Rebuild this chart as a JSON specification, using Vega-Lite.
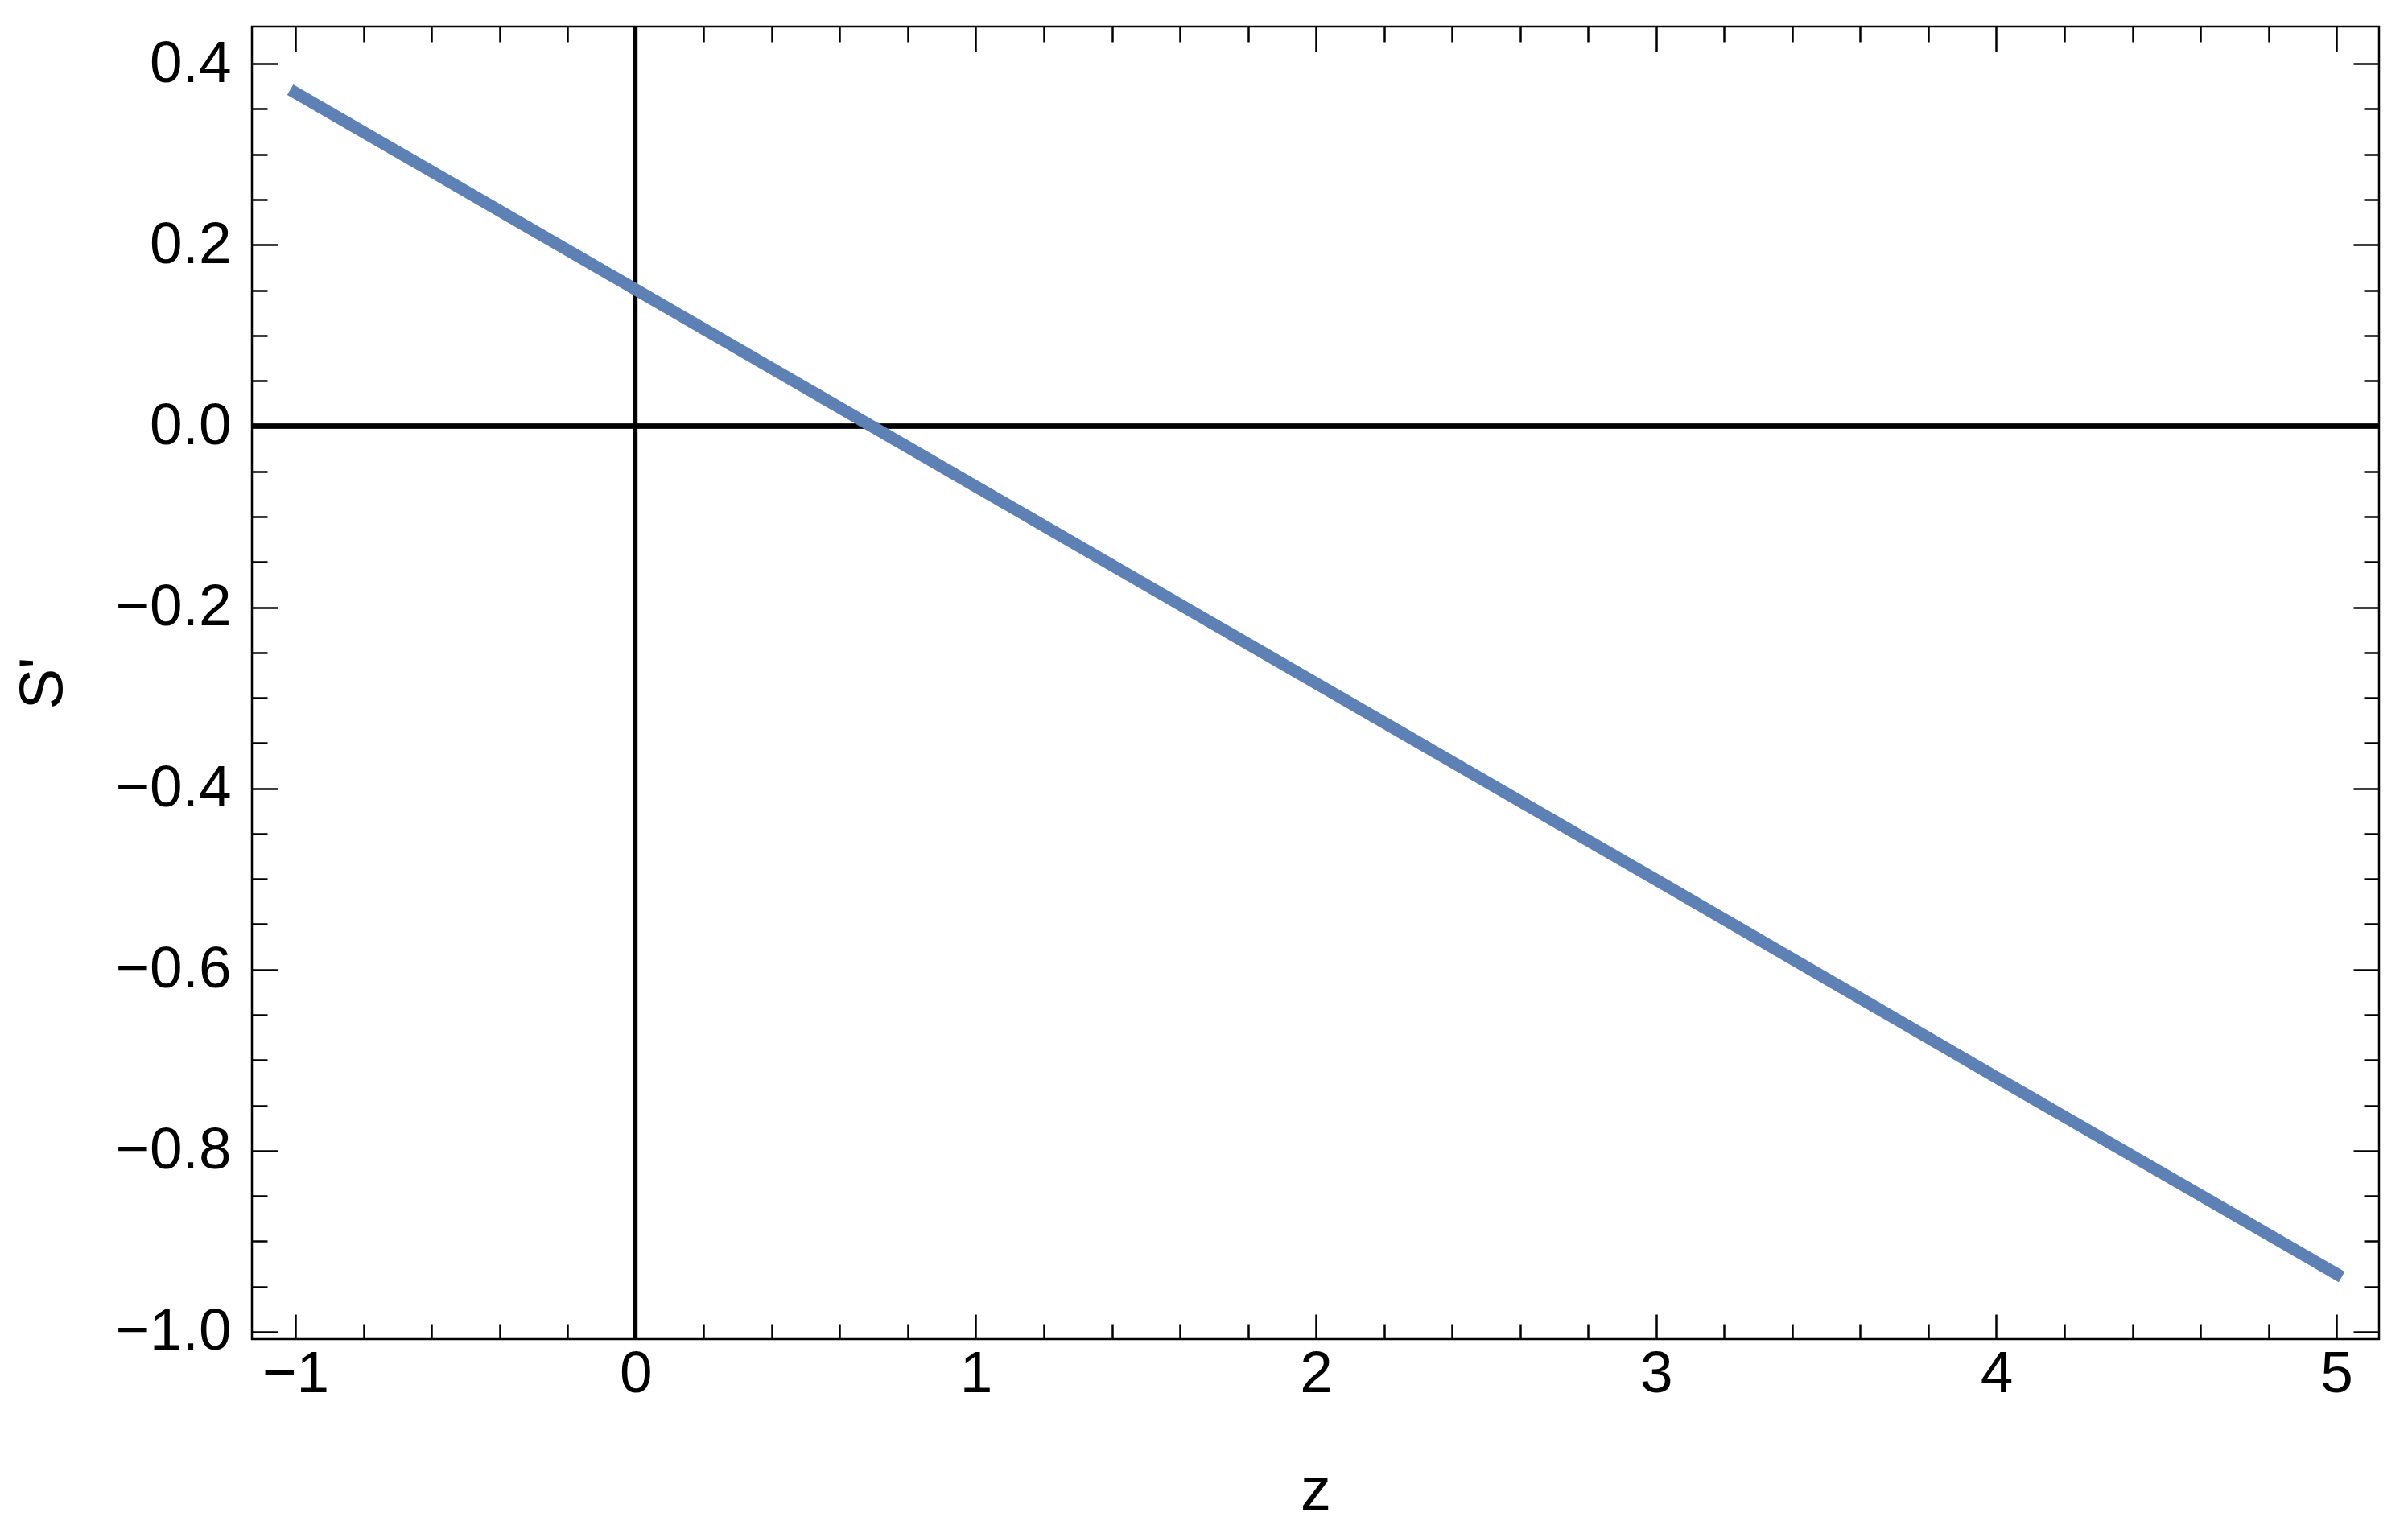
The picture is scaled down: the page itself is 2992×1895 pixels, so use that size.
{
  "$schema": "https://vega.github.io/schema/vega-lite/v6.json",
  "width": 2643,
  "height": 1631,
  "autosize": {"type": "none"},
  "padding": {"left": 313, "top": 33, "right": 36, "bottom": 231},
  "background": "white",
  "config": {
    "view": {"stroke": "black", "strokeWidth": 2.5},
    "axis": {
      "grid": false,
      "domain": false,
      "labelFont": "Liberation Sans",
      "labelFontSize": 73,
      "labelColor": "black",
      "tickColor": "black",
      "tickWidth": 2.5,
      "titleFont": "Liberation Sans",
      "titleFontSize": 76,
      "titleFontWeight": "normal",
      "titleColor": "black",
      "labelOverlap": false,
      "labelFlush": false
    }
  },
  "data": {
    "values": [
      {"z": -1, "s": 0.368},
      {"z": 0, "s": 0.1507},
      {"z": 1, "s": -0.0667},
      {"z": 2, "s": -0.284},
      {"z": 3, "s": -0.501},
      {"z": 4, "s": -0.719},
      {"z": 5, "s": -0.936}
    ]
  },
  "layer": [
    {
      "mark": {"type": "rule", "color": "black", "strokeWidth": 4.5},
      "encoding": {
        "x": {
          "datum": 0,
          "type": "quantitative",
          "axis": {
            "orient": "top",
            "values": [-1, -0.8, -0.6, -0.4, -0.2, 0, 0.2, 0.4, 0.6, 0.8, 1, 1.2, 1.4, 1.6, 1.8, 2, 2.2, 2.4, 2.6, 2.8, 3, 3.2, 3.4, 3.6, 3.8, 4, 4.2, 4.4, 4.6, 4.8, 5],
            "labels": false,
            "title": null,
            "tickSize": {"condition": {"test": "abs(datum.value - round(datum.value)) < 1e-6", "value": -31}, "value": -19}
          }
        }
      }
    },
    {
      "mark": {"type": "rule", "color": "black", "strokeWidth": 5.5},
      "encoding": {
        "y": {
          "datum": 0,
          "type": "quantitative",
          "axis": {
            "orient": "right",
            "values": [-1, -0.95, -0.9, -0.85, -0.8, -0.75, -0.7, -0.65, -0.6, -0.55, -0.5, -0.45, -0.4, -0.35, -0.3, -0.25, -0.2, -0.15, -0.1, -0.05, 0, 0.05, 0.1, 0.15, 0.2, 0.25, 0.3, 0.35, 0.4],
            "labels": false,
            "title": null,
            "tickSize": {"condition": {"test": "abs(datum.value * 5 - round(datum.value * 5)) < 1e-6", "value": -32}, "value": -19}
          }
        }
      }
    },
    {
      "mark": {"type": "line", "color": "#5E81B5", "strokeWidth": 15, "strokeCap": "square"},
      "encoding": {
        "x": {
          "field": "z",
          "type": "quantitative",
          "scale": {"domain": [-1.128, 5.125], "nice": false, "zero": false},
          "axis": {
            "orient": "bottom",
            "values": [-1, -0.8, -0.6, -0.4, -0.2, 0, 0.2, 0.4, 0.6, 0.8, 1, 1.2, 1.4, 1.6, 1.8, 2, 2.2, 2.4, 2.6, 2.8, 3, 3.2, 3.4, 3.6, 3.8, 4, 4.2, 4.4, 4.6, 4.8, 5],
            "labelExpr": "abs(datum.value - round(datum.value)) < 1e-6 ? format(datum.value, '.0f') : ''",
            "labelPadding": 38,
            "tickSize": {"condition": {"test": "abs(datum.value - round(datum.value)) < 1e-6", "value": -31}, "value": -19},
            "title": "z",
            "titlePadding": 59
          }
        },
        "y": {
          "field": "s",
          "type": "quantitative",
          "scale": {"domain": [-1.008, 0.441], "nice": false, "zero": false},
          "axis": {
            "orient": "left",
            "values": [-1, -0.95, -0.9, -0.85, -0.8, -0.75, -0.7, -0.65, -0.6, -0.55, -0.5, -0.45, -0.4, -0.35, -0.3, -0.25, -0.2, -0.15, -0.1, -0.05, 0, 0.05, 0.1, 0.15, 0.2, 0.25, 0.3, 0.35, 0.4],
            "labelExpr": "abs(datum.value * 5 - round(datum.value * 5)) < 1e-6 ? format(datum.value, '.1f') : ''",
            "labelPadding": 58,
            "tickSize": {"condition": {"test": "abs(datum.value * 5 - round(datum.value * 5)) < 1e-6", "value": -32}, "value": -19},
            "title": "S'",
            "titlePadding": 50
          }
        }
      }
    }
  ]
}
